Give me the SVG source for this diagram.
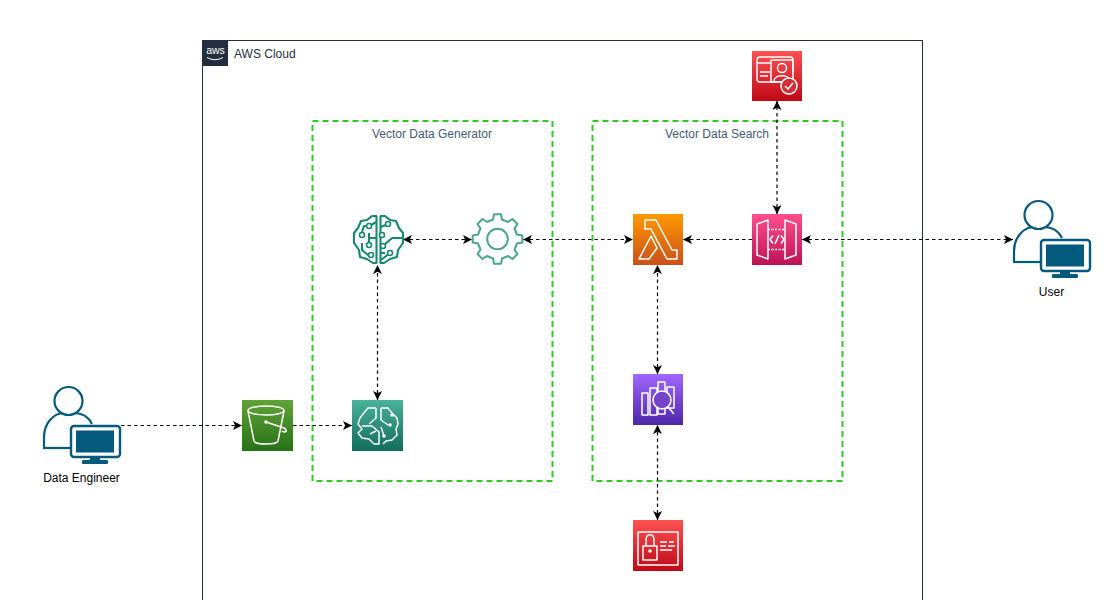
<svg xmlns="http://www.w3.org/2000/svg" width="1114" height="600" viewBox="0 0 1114 600">
<style>
text{font-family:"Liberation Sans",Arial,sans-serif}
.lbl{font-size:12px;fill:#000;text-anchor:middle}
.grp{font-size:12px;fill:#445a75;text-anchor:middle}
.box{fill:none;stroke:#2ecc1f;stroke-width:2;stroke-dasharray:6 4}
.con{fill:none;stroke:#000;stroke-width:1.2;stroke-dasharray:3.5 3;marker-start:url(#a);marker-end:url(#a)}
.one{fill:none;stroke:#000;stroke-width:1.2;stroke-dasharray:3.5 3;marker-end:url(#a)}
.w{fill:none;stroke:#fff;stroke-width:1.5;stroke-linejoin:round}
.wd{fill:none;stroke:#fff;stroke-width:1.4;stroke-dasharray:2 1.5}
.t{fill:none;stroke:#16896f;stroke-width:2.100;stroke-linejoin:round}
.tc{fill:#fff;stroke:#16896f;stroke-width:1.6}
</style>
<defs>
<marker id="a" markerWidth="10" markerHeight="10" refX="9" refY="4.500" orient="auto-start-reverse" markerUnits="userSpaceOnUse" viewBox="0 0 10 10"><path d="M0 0L9 4.500L0 9L2.200 4.500Z" fill="#000"/></marker>
<linearGradient id="gr" x1="0" y1="1" x2="0" y2="0"><stop offset="0" stop-color="#277116"/><stop offset="1" stop-color="#60a337"/></linearGradient>
<linearGradient id="te" x1="0" y1="1" x2="0" y2="0"><stop offset="0" stop-color="#116d5b"/><stop offset="1" stop-color="#4ab29a"/></linearGradient>
<linearGradient id="or" x1="0" y1="1" x2="0" y2="0"><stop offset="0" stop-color="#c8511b"/><stop offset="1" stop-color="#f90"/></linearGradient>
<linearGradient id="pk" x1="0" y1="1" x2="0" y2="0"><stop offset="0" stop-color="#bc1356"/><stop offset="1" stop-color="#ff4f8b"/></linearGradient>
<linearGradient id="rd" x1="0" y1="1" x2="0" y2="0"><stop offset="0" stop-color="#bd0816"/><stop offset="1" stop-color="#ff5252"/></linearGradient>
<linearGradient id="pu" x1="0" y1="1" x2="0" y2="0"><stop offset="0" stop-color="#4d27a8"/><stop offset="1" stop-color="#a166ff"/></linearGradient>
<g id="person">
<path d="M1 61V50C1 36 11 26 21 26H31C40 26 46 31 49 37" fill="#fff" stroke="#045a7c" stroke-width="2.200"/>
<path d="M0 61H28" fill="none" stroke="#045a7c" stroke-width="2.200"/>
<circle cx="25.500" cy="14" r="14" fill="#fff" stroke="#045a7c" stroke-width="2.200"/>
<rect x="28" y="39" width="49" height="31" rx="3" fill="#fff" stroke="#045a7c" stroke-width="2.400"/>
<rect x="33" y="43.500" width="38" height="22" fill="#045a7c"/>
<path d="M47 70H57V73H64C65.500 73 65.500 77 64 77H40C38.500 77 38.500 73 40 73H47Z" fill="#045a7c"/>
</g>
</defs>

<g id="aws-cloud">
<rect x="202.500" y="40.500" width="720" height="600" fill="none" stroke="#232f3e" stroke-width="1"/>
<rect x="203" y="41" width="25" height="25" fill="#232f3e"/>
<text x="215.500" y="54" font-size="10.500" fill="#fff" text-anchor="middle">aws</text>
<path d="M207 57.500Q215 62 223 57.500" fill="none" stroke="#fff" stroke-width="1"/>
<text x="234" y="58" font-size="12" fill="#232f3e">AWS Cloud</text>
</g>

<g id="vector-data-generator">
<rect class="box" x="312.500" y="121" width="240" height="360"/>
<text class="grp" x="432" y="138">Vector Data Generator</text>
</g>
<g id="vector-data-search">
<rect class="box" x="592.500" y="121" width="250" height="360"/>
<text class="grp" x="717" y="138">Vector Data Search</text>
</g>

<g id="connectors">
<path class="one" d="M121 425.500H242"/>
<path class="one" d="M293 425.500H352"/>
<path class="con" d="M377.500 400V265"/>
<path class="con" d="M403 239.500H472"/>
<path class="con" d="M523 239.500H633"/>
<path class="one" d="M752 239.500H683"/>
<path class="con" d="M802 239.500H1013"/>
<path class="con" d="M777 214V101"/>
<path class="con" d="M657.500 374V265"/>
<path class="con" d="M657.500 520V425"/>
</g>

<g id="s3">
<rect x="242" y="400" width="51" height="51" fill="url(#gr)"/>
<ellipse class="w" cx="266" cy="410.500" rx="18" ry="4.500"/>
<path class="w" d="M248 411L254 441C255 445 277 445 278 441L284 411"/>
<path class="w" d="M266 422L284 428C288 430 286 434 282 431"/>
<circle cx="266" cy="422" r="1.800" fill="#fff"/>
</g>

<g id="sagemaker-bottom">
<rect x="352" y="400" width="51" height="51" fill="url(#te)"/>
<path class="w" d="M376 408H368L363 414L360 418L358 424L362 429L358 433L362 438L369 439L374 444H379V432L372 426H362M376 408V418L369 424M381 408H388L392 413L397 418L398 424L396 429L397 435L392 440L386 441L383 444M381 408V420L388 425M381 427L384 436M376 431L370 434"/>
<circle cx="390" cy="425" r="1.800" fill="#fff"/><circle cx="384" cy="436" r="1.800" fill="#fff"/><circle cx="392" cy="415" r="1.800" fill="#fff"/>
</g>

<g id="sagemaker-brain">
<path class="t" d="M376.500 216V263M380.500 216V263M377 216H372L367 220L361 221L358 228L354 233V243L359 250L360 257L367 259L373 263H377M380 216H385L390 220L396 221L399 228L403 233V243L398 250L397 257L390 259L384 263H380"/>
<path class="t" d="M376.500 222L369 226H364L362 232M369 233V243M362 243V250L368 255H371M376.500 238H369M381 227L388 224M381 235H383M392 238H403M383 246L392 238M381 260L390 253M381 253H385"/>
<circle class="tc" cx="369" cy="226" r="2.500"/><circle class="tc" cx="362" cy="235" r="2.500"/><circle class="tc" cx="369" cy="245" r="2.500"/><circle class="tc" cx="371" cy="255" r="2.500"/><circle class="tc" cx="388" cy="224" r="2.500"/><circle class="tc" cx="382" cy="235" r="2.500"/><circle class="tc" cx="383" cy="246" r="2.500"/><circle class="tc" cx="390" cy="253" r="2.500"/>
</g>

<g id="gear">
<path transform="translate(497.500 239)" fill="#fff" stroke="#4aa68f" stroke-width="2" stroke-linejoin="round" d="M-4.500-19.500L-3.500-24.800H3.500L4.500-19.500L10.600-17L15-20L20-15L17-10.600L19.500-4.500L24.800-3.500V3.500L19.500 4.500L17 10.600L20 15L15 20L10.600 17L4.500 19.500L3.500 24.800H-3.500L-4.500 19.500L-10.600 17L-15 20L-20 15L-17 10.600L-19.500 4.500L-24.800 3.500V-3.500L-19.500-4.500L-17-10.600L-20-15L-15-20L-10.600-17Z"/>
<circle cx="497.500" cy="239" r="10.300" fill="none" stroke="#4aa68f" stroke-width="2"/>
</g>

<g id="lambda">
<rect x="633" y="214" width="50" height="51" fill="url(#or)"/>
<path class="w" d="M645 220H656L672 250H677V259H667L651 229H645ZM651 236L657 248L649 259H639Z"/>
</g>

<g id="api-gateway">
<rect x="752" y="214" width="50" height="51" fill="url(#pk)"/>
<path class="w" d="M757 224L768 220V259L757 255ZM785 220L796 224V255L785 259Z"/>
<path class="wd" d="M768 229.500H785M768 249.500H785"/>
<path class="w" d="M773 235.500L770 239.500L773 243.500M781 235.500L784 239.500L781 243.500M779 235L775 244"/>
</g>

<g id="cognito">
<rect x="752" y="51" width="50" height="50" fill="url(#rd)"/>
<path class="w" d="M782 82H760C758 82 757 81 757 79V60C757 58 758 57 760 57H790C792 57 793 58 793 60V72"/>
<path class="w" d="M757 63H771M760 72H770M760 76H768"/>
<rect class="w" x="771" y="60" width="22" height="22" stroke-width="1.200"/>
<circle class="w" cx="782" cy="68" r="4.500"/>
<path class="w" d="M774 81C774 74 790 74 790 81"/>
<circle cx="789" cy="86" r="8" fill="#d32f36" stroke="#fff" stroke-width="1.500"/>
<path class="w" d="M785 86L788 89L793 83"/>
</g>

<g id="opensearch">
<rect x="633" y="374" width="50" height="51" fill="url(#pu)"/>
<path class="w" d="M642 393H648V415H642ZM650 388H657V415H650ZM658 382H665V414H658ZM667 387H674V408H667Z"/>
<circle cx="662" cy="400" r="9" fill="#7544cb" stroke="#fff" stroke-width="1.500"/>
<path class="w" d="M668 407L674 414" stroke-width="2.400"/>
</g>

<g id="secrets">
<rect x="633" y="520" width="50" height="51" fill="url(#rd)"/>
<rect class="w" x="638" y="532" width="40" height="33"/>
<rect class="w" x="643" y="546" width="14" height="14"/>
<path class="w" d="M646 546V540C646 533 654 533 654 540V546"/>
<circle cx="650" cy="551" r="1.800" fill="#fff"/>
<path class="w" d="M660 542H667M669 542H674M660 546H666M668 546H675M660 550H672"/>
</g>

<g id="data-engineer">
<use href="#person" x="43" y="387"/>
<text class="lbl" x="81.500" y="482">Data Engineer</text>
</g>
<g id="user">
<use href="#person" x="1013" y="201"/>
<text class="lbl" x="1051.500" y="296">User</text>
</g>
</svg>
